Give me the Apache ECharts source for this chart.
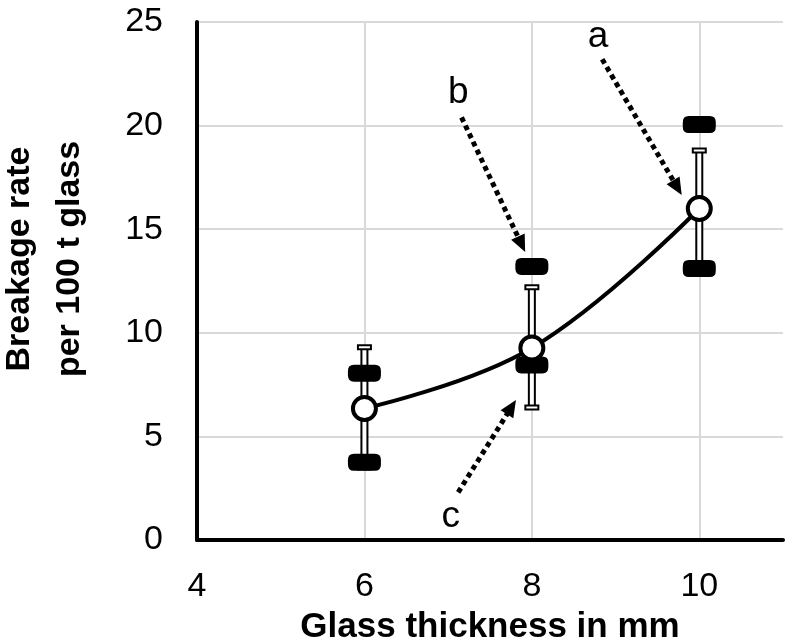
<!DOCTYPE html>
<html lang="en">
<head>
    <meta charset="UTF-8">
    <title>Breakage rate vs glass thickness</title>
    <script src="https://cdn.jsdelivr.net/npm/echarts@6/dist/echarts.min.js"></script>
    <style>
        html, body { margin: 0; padding: 0; background: #fff; }
    </style>
</head>
<body>
<div id="main" style="width: 785px;height:640px;"></div>

<script>
    // glass thickness (mm) and mean breakage rate
    var thickness = [6, 8, 10];
    var meanRate = [6.35, 9.27, 16.0];
    // thin error bars (double line)
    var errHigh = [9.3, 12.2, 18.8];
    var errLow = [3.5, 6.4, 13.2];
    // thick black bars above / below
    var markHigh = [8.05, 13.2, 20.05];
    var markLow = [3.75, 8.45, 13.1];

    var xTicks = [4, 6, 8, 10];
    var yTicks = [0, 5, 10, 15, 20, 25];

    // arrow annotations (data units)
    var arrowText = ['a', 'b', 'c'];
    var arrowFromX = [8.84, 7.16, 7.12];
    var arrowFromY = [23.2, 20.4, 2.3];
    var arrowToX = [9.79, 7.92, 7.81];
    var arrowToY = [16.65, 13.9, 6.76];
    var textX = [8.79, 7.12, 7.03];
    var textY = [24.3, 21.6, 1.1];

    var font = "'Liberation Sans', Arial, sans-serif";
    // pill shaped bar
    var pill = 'path://M6,0 L27,0 Q33,0 33,6 L33,10 Q33,16 27,16 L6,16 Q0,16 0,10 L0,6 Q0,0 6,0 Z';

    var lineData = [], errData = [], markData = [], arrowData = [];
    for (var i = 0; i < thickness.length; i++) {
        lineData.push([thickness[i], meanRate[i]]);
        errData.push([thickness[i], errLow[i], errHigh[i]]);
        markData.push([thickness[i], markHigh[i]]);
        markData.push([thickness[i], markLow[i]]);
    }
    for (var j = 0; j < arrowText.length; j++) {
        arrowData.push([arrowFromX[j], arrowFromY[j], arrowToX[j], arrowToY[j], textX[j], textY[j], arrowText[j]]);
    }

    var myChart = echarts.init(document.getElementById('main'));
    myChart.setOption({
        animation: false,
        grid: { left: 197, right: 2, top: 22, bottom: 100, containLabel: false, outerBoundsMode: 'none' },
        xAxis: {
            type: 'value',
            min: xTicks[0],
            max: 11,
            interval: 2,
            name: 'Glass thickness in mm',
            nameLocation: 'middle',
            nameGap: 70,
            nameTextStyle: { fontFamily: font, fontSize: 35, fontWeight: 'bold', color: '#000' },
            axisLine: { show: true, lineStyle: { color: '#000', width: 4 } },
            axisTick: { show: false },
            axisLabel: {
                fontFamily: font, fontSize: 34, color: '#000', margin: 30,
                formatter: function (v) { return xTicks.indexOf(v) >= 0 ? String(v) : ''; }
            },
            splitLine: { show: true, showMinLine: false, showMaxLine: false, lineStyle: { color: '#d9d9d9', width: 2 } }
        },
        yAxis: {
            type: 'value',
            min: yTicks[0],
            max: yTicks[yTicks.length - 1],
            interval: 5,
            name: 'Breakage rate\nper 100 t glass',
            nameLocation: 'middle',
            nameRotate: 90,
            nameGap: 102,
            nameTextStyle: {
                fontFamily: font, fontSize: 34, fontWeight: 'bold', color: '#000',
                lineHeight: 50, padding: [0, 0, 0, 44]
            },
            axisLine: { show: true, lineStyle: { color: '#000', width: 4 } },
            axisTick: { show: false },
            axisLabel: { fontFamily: font, fontSize: 34, color: '#000', margin: 34 },
            splitLine: { show: true, showMinLine: false, lineStyle: { color: '#d9d9d9', width: 2 } }
        },
        series: [
            {
                // double-line error bars
                type: 'custom',
                z: 3,
                data: errData,
                renderItem: function (params, api) {
                    var lo = api.coord([api.value(0), api.value(1)]);
                    var hi = api.coord([api.value(0), api.value(2)]);
                    var st = { fill: '#fff', stroke: '#000', lineWidth: 2 };
                    return {
                        type: 'group',
                        children: [
                            { type: 'rect', shape: { x: hi[0] - 3, y: hi[1], width: 6, height: lo[1] - hi[1] }, style: st },
                            { type: 'rect', shape: { x: hi[0] - 6.5, y: hi[1] - 2, width: 13, height: 4 }, style: st },
                            { type: 'rect', shape: { x: lo[0] - 6.5, y: lo[1] - 2, width: 13, height: 4 }, style: st }
                        ]
                    };
                }
            },
            {
                type: 'scatter',
                z: 4,
                data: markData,
                symbol: pill,
                symbolKeepAspect: false,
                symbolSize: [33, 17],
                itemStyle: { color: '#000', opacity: 1 }
            },
            {
                type: 'line',
                z: 5,
                data: lineData,
                smooth: 0.4,
                symbol: 'circle',
                symbolSize: 23,
                lineStyle: { color: '#000', width: 4 },
                itemStyle: { color: '#fff', borderColor: '#000', borderWidth: 4, opacity: 1 }
            },
            {
                // dotted arrows with letters
                type: 'custom',
                z: 6,
                data: arrowData,
                renderItem: function (params, api) {
                    var p0 = api.coord([api.value(0), api.value(1)]);
                    var p1 = api.coord([api.value(2), api.value(3)]);
                    var pt = api.coord([api.value(4), api.value(5)]);
                    var dx = p1[0] - p0[0], dy = p1[1] - p0[1];
                    var len = Math.sqrt(dx * dx + dy * dy);
                    var ux = dx / len, uy = dy / len;
                    var head = 17, half = 7.5;
                    var bx = p1[0] - ux * head, by = p1[1] - uy * head;
                    return {
                        type: 'group',
                        children: [
                            {
                                type: 'polyline',
                                shape: { points: [p0, [bx + ux * 2, by + uy * 2]] },
                                style: { stroke: '#000', lineWidth: 5, lineDash: [5, 4], fill: null }
                            },
                            {
                                type: 'polygon',
                                shape: { points: [p1, [bx - uy * half, by + ux * half], [bx + uy * half, by - ux * half]] },
                                style: { fill: '#000' }
                            },
                            {
                                type: 'text',
                                x: pt[0], y: pt[1],
                                style: {
                                    text: arrowText[params.dataIndex],
                                    fontFamily: font, fontSize: 37, fill: '#000',
                                    align: 'center', verticalAlign: 'middle'
                                }
                            }
                        ]
                    };
                }
            }
        ]
    });
</script>
</body>
</html>
